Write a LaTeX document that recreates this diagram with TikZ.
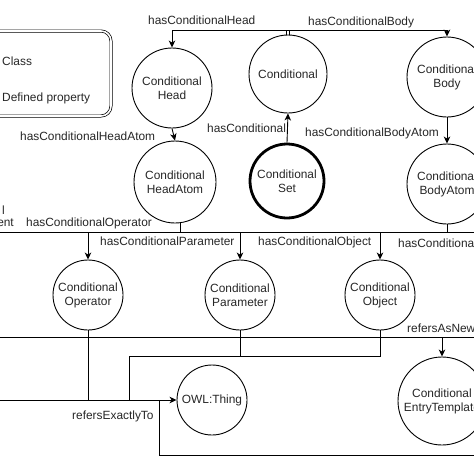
\documentclass[tikz,border=0pt]{standalone}
\usepackage{fontspec}
\setmainfont{Liberation Sans}
\usetikzlibrary{arrows.meta}
\begin{document}
\begin{tikzpicture}[x=1pt,y=-1pt,
  every node/.style={font=\fontsize{11.9}{14}\selectfont, text=black!85},
  cls/.style={circle, draw, line width=0.9pt, inner sep=0pt, align=center},
  lbl/.style={anchor=west, inner sep=0pt},
  ln/.style={line width=0.9pt},
  arr/.style={line width=0.9pt, -{Stealth[length=7pt,width=6.5pt,inset=2pt]}}]
\useasboundingbox (0,0) rectangle (474,474);
\clip (0,0) rectangle (474,474);
% legend
\draw[double, double distance=1.6pt, line width=0.7pt, rounded corners=10pt] (-20,31) rectangle (111,116);
\node[lbl] (lc) at (2,61) {Class};
\node[lbl] (ld) at (2,98) {Defined property};
% classes
\node[cls, minimum size=80pt] (head) at (172,88) {Conditional\\Head};
\node[cls, minimum size=78pt] (cond) at (288,74) {Conditional};
\node[cls, minimum size=80pt] (body) at (447,77) {Conditional\\Body};
\node[cls, minimum size=82pt] (hatom) at (175,182) {Conditional\\HeadAtom};
\node[cls, minimum size=74pt, line width=2.8pt] (set) at (287,181) {Conditional\\Set};
\node[cls, minimum size=80pt] (batom) at (447,184) {Conditional\\BodyAtom};
\node[cls, minimum size=70pt] (op) at (88,295) {Conditional\\Operator};
\node[cls, minimum size=70pt] (par) at (240,295) {Conditional\\Parameter};
\node[cls, minimum size=70pt] (obj) at (380,295) {Conditional\\Object};
\node[cls, minimum size=70pt] (thing) at (212,400) {OWL:Thing};
\node[cls, minimum size=88pt] (entry) at (442,401) {Conditional\\EntryTemplate};
% top connectors
\coordinate (t1) at (172,30);
\coordinate (t2) at (447,30);
\draw[ln] (t1) -- (t2);
\draw[arr] (t1) -- (head.north);
\draw[arr] (t2) -- (body.north);
\draw[line width=0.7pt] ([xshift=-1.6pt]cond.north) -- ([xshift=-1.6pt]cond.north |- t1);
\draw[line width=0.7pt] ([xshift=1.6pt]cond.north) -- ([xshift=1.6pt]cond.north |- t1);
\draw[arr] (head.south) -- (hatom.north);
\draw[arr] (set.north) -- (cond.south);
\draw[arr] (body.south) -- (batom.north);
% middle bus
\coordinate (m0) at (0,232);
\coordinate (m1) at (474,232);
\coordinate (ha) at (180,222);
\draw[ln] (m0) -- (m1);
\draw[ln] (ha) -- (ha |- m0);
\draw[ln] (batom.south) -- (batom.south |- m0);
\draw[arr] (op.north |- m0) -- (op.north);
\draw[arr] (par.north |- m0) -- (par.north);
\draw[arr] (obj.north |- m0) -- (obj.north);
% lower connectors
\coordinate (n0) at (0,337);
\coordinate (n1) at (474,337);
\draw[ln] (n0) -- (n1);
\draw[arr] (entry.north |- n0) -- (entry.north);
\coordinate (r0) at (0,400);
\coordinate (k1) at (129,356);
\coordinate (k2) at (129,400);
\coordinate (b1) at (159,400);
\coordinate (b2) at (159,455);
\coordinate (b3) at (474,455);
\draw[ln] (op.south) -- (op.south |- r0);
\draw[ln] (par.south) -- (par.south |- k1);
\draw[ln] (obj.south) -- (obj.south |- k1) -- (k1) -- (k2);
\draw[arr] (r0) -- (thing.west);
\draw[ln] (b3) -- (b2) -- (b1);
% labels
\node[lbl] (l1) at (148,20) {hasConditionalHead};
\node[lbl] (l2) at (308,22) {hasConditionalBody};
\node[lbl] (l3) at (20,136) {hasConditionalHeadAtom};
\node[lbl] (l4) at (207,128) {hasConditional};
\node[lbl] (l5) at (305,133) {hasConditionalBodyAtom};
\node[lbl] (l6) at (26,223) {hasConditionalOperator};
\node[lbl] (l7) at (100,241) {hasConditionalParameter};
\node[lbl] (l8) at (258,242) {hasConditionalObject};
\node[lbl] (l9) at (398,243) {hasConditional};
\node[anchor=east, inner sep=0pt] (l10) at (5,210) {l};
\node[anchor=east, inner sep=0pt] (l11) at (14,223) {ent};
\node[lbl] (l12) at (72,416) {refersExactlyTo};
\node[lbl] (l13) at (407,328) {refersAsNew};
\end{tikzpicture}
\end{document}
